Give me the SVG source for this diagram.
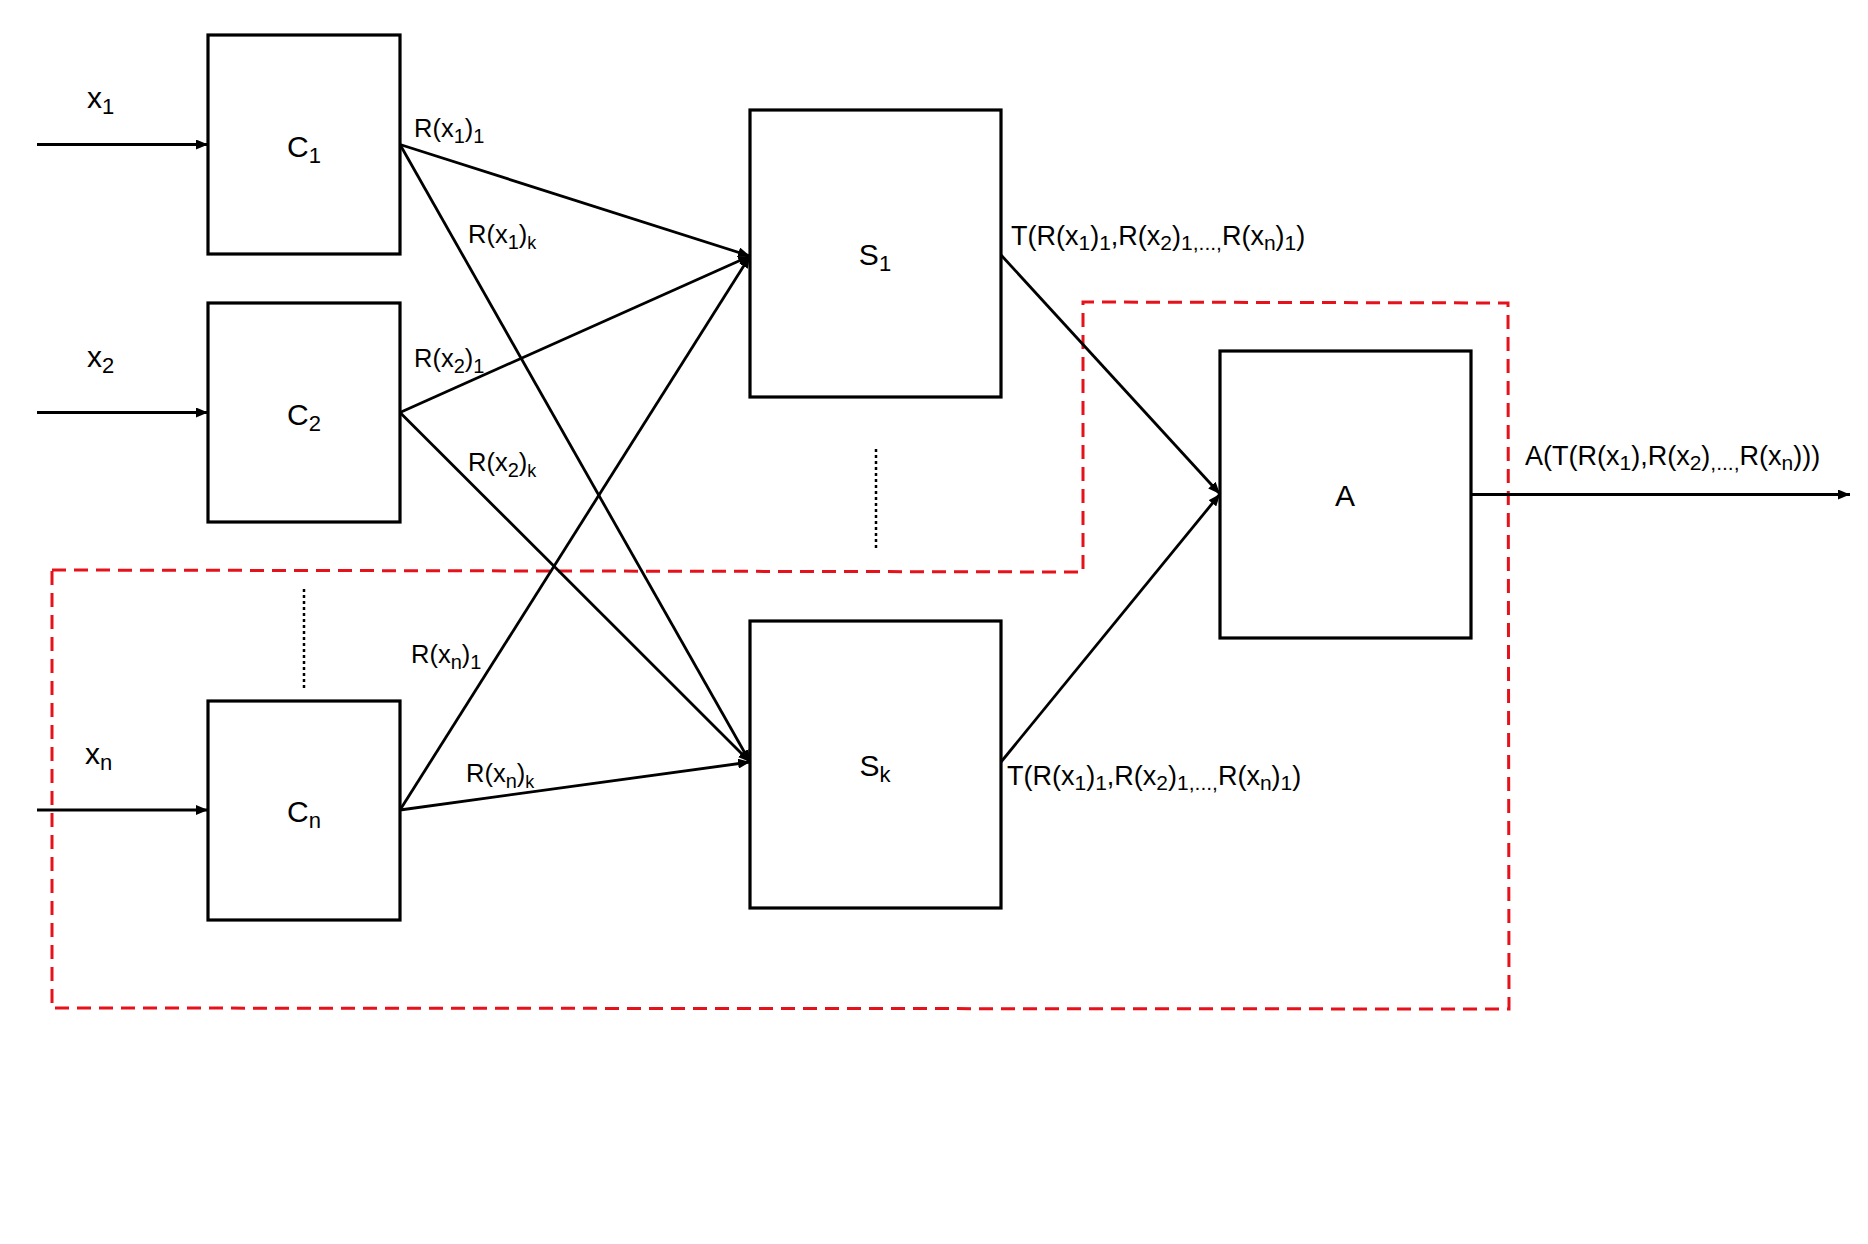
<svg xmlns="http://www.w3.org/2000/svg" width="1868" height="1244" viewBox="0 0 1868 1244">
  <defs>
    <style>
      .box { fill: #ffffff; stroke: #000000; stroke-width: 3.2; }
      .conn { fill: none; stroke: #000000; stroke-width: 2.8; }
      .dots { fill: none; stroke: #000000; stroke-width: 2.5; stroke-dasharray: 3 3; }
      .region { fill: none; stroke: #e5121b; stroke-width: 3; stroke-dasharray: 14 8; }
      text { font-family: "Liberation Sans", Arial, sans-serif; fill: #000000; }
      .lbl { font-size: 30px; }
      .inp { font-size: 30px; }
      .edge { font-size: 25.5px; }
      .big { font-size: 27px; }
    </style>
    <marker id="arr" markerUnits="userSpaceOnUse" markerWidth="12" markerHeight="10" viewBox="0 0 12 10" refX="12" refY="5" orient="auto">
      <path d="M0,0 L12,5 L0,10 z" fill="#000000"/>
    </marker>
  </defs>
  <rect width="1868" height="1244" fill="#ffffff"/>

  <!-- red dashed region -->
  <polygon class="region" points="52,570 1083,572 1083,302 1508,303 1509,1009 52,1008"/>

  <!-- connectors -->
  <g id="connectors">
    <line class="conn" x1="37" y1="144.5" x2="208" y2="144.5" marker-end="url(#arr)"/>
    <line class="conn" x1="37" y1="412.5" x2="208" y2="412.5" marker-end="url(#arr)"/>
    <line class="conn" x1="37" y1="810" x2="208" y2="810" marker-end="url(#arr)"/>

    <line class="conn" x1="400" y1="144.5" x2="750" y2="256" marker-end="url(#arr)"/>
    <line class="conn" x1="400" y1="144.5" x2="750" y2="762" marker-end="url(#arr)"/>
    <line class="conn" x1="400" y1="412.5" x2="750" y2="256" marker-end="url(#arr)"/>
    <line class="conn" x1="400" y1="412.5" x2="750" y2="762" marker-end="url(#arr)"/>
    <line class="conn" x1="400" y1="810" x2="750" y2="256" marker-end="url(#arr)"/>
    <line class="conn" x1="400" y1="810" x2="750" y2="762" marker-end="url(#arr)"/>

    <line class="conn" x1="1001" y1="255" x2="1220" y2="494" marker-end="url(#arr)"/>
    <line class="conn" x1="1001" y1="762" x2="1220" y2="494" marker-end="url(#arr)"/>

    <line class="conn" x1="1471" y1="494.5" x2="1850" y2="494.5" marker-end="url(#arr)"/>

    <line class="dots" x1="304" y1="589" x2="304" y2="688"/>
    <line class="dots" x1="876" y1="449" x2="876" y2="548"/>
  </g>

  <!-- nodes -->
  <g id="C1">
    <rect class="box" x="208" y="35" width="192" height="219"/>
    <text class="lbl" x="304" y="157" text-anchor="middle">C<tspan dy="6" font-size="22">1</tspan></text>
  </g>
  <g id="C2">
    <rect class="box" x="208" y="303" width="192" height="219"/>
    <text class="lbl" x="304" y="425" text-anchor="middle">C<tspan dy="6" font-size="22">2</tspan></text>
  </g>
  <g id="Cn">
    <rect class="box" x="208" y="701" width="192" height="219"/>
    <text class="lbl" x="304" y="822" text-anchor="middle">C<tspan dy="6" font-size="22">n</tspan></text>
  </g>
  <g id="S1">
    <rect class="box" x="750" y="110" width="251" height="287"/>
    <text class="lbl" x="875" y="265" text-anchor="middle">S<tspan dy="6" font-size="22">1</tspan></text>
  </g>
  <g id="Sk">
    <rect class="box" x="750" y="621" width="251" height="287"/>
    <text class="lbl" x="875" y="776" text-anchor="middle">S<tspan dy="6" font-size="22">k</tspan></text>
  </g>
  <g id="A">
    <rect class="box" x="1220" y="351" width="251" height="287"/>
    <text class="lbl" x="1345" y="506" text-anchor="middle">A</text>
  </g>

  <!-- labels -->
  <g id="labels">
    <text class="inp" x="87" y="108">x<tspan dy="6" font-size="22">1</tspan></text>
    <text class="inp" x="87" y="367">x<tspan dy="6" font-size="22">2</tspan></text>
    <text class="inp" x="85" y="764">x<tspan dy="6" font-size="22">n</tspan></text>

    <text class="edge" x="414" y="137">R(x<tspan dy="6" font-size="20">1</tspan><tspan dy="-6">)</tspan><tspan dy="6" font-size="20">1</tspan></text>
    <text class="edge" x="468" y="243">R(x<tspan dy="6" font-size="20">1</tspan><tspan dy="-6">)</tspan><tspan dy="6" font-size="18">k</tspan></text>
    <text class="edge" x="414" y="367">R(x<tspan dy="6" font-size="20">2</tspan><tspan dy="-6">)</tspan><tspan dy="6" font-size="20">1</tspan></text>
    <text class="edge" x="468" y="471">R(x<tspan dy="6" font-size="20">2</tspan><tspan dy="-6">)</tspan><tspan dy="6" font-size="18">k</tspan></text>
    <text class="edge" x="411" y="663">R(x<tspan dy="6" font-size="20">n</tspan><tspan dy="-6">)</tspan><tspan dy="6" font-size="20">1</tspan></text>
    <text class="edge" x="466" y="782">R(x<tspan dy="6" font-size="20">n</tspan><tspan dy="-6">)</tspan><tspan dy="6" font-size="18">k</tspan></text>

    <text class="big" x="1011" y="245">T(R(x<tspan dy="5" font-size="21">1</tspan><tspan dy="-5">)</tspan><tspan dy="5" font-size="21">1</tspan><tspan dy="-5">,R(x</tspan><tspan dy="5" font-size="21">2</tspan><tspan dy="-5">)</tspan><tspan dy="5" font-size="21">1,...,</tspan><tspan dy="-5">R(x</tspan><tspan dy="5" font-size="21">n</tspan><tspan dy="-5">)</tspan><tspan dy="5" font-size="21">1</tspan><tspan dy="-5">)</tspan></text>
    <text class="big" x="1007" y="785">T(R(x<tspan dy="5" font-size="21">1</tspan><tspan dy="-5">)</tspan><tspan dy="5" font-size="21">1</tspan><tspan dy="-5">,R(x</tspan><tspan dy="5" font-size="21">2</tspan><tspan dy="-5">)</tspan><tspan dy="5" font-size="21">1,...,</tspan><tspan dy="-5">R(x</tspan><tspan dy="5" font-size="21">n</tspan><tspan dy="-5">)</tspan><tspan dy="5" font-size="21">1</tspan><tspan dy="-5">)</tspan></text>

    <text class="big" x="1525" y="465">A(T(R(x<tspan dy="5" font-size="21">1</tspan><tspan dy="-5">),R(x</tspan><tspan dy="5" font-size="21">2</tspan><tspan dy="-5">)</tspan><tspan dy="5" font-size="21">,...,</tspan><tspan dy="-5">R(x</tspan><tspan dy="5" font-size="21">n</tspan><tspan dy="-5">)))</tspan></text>
  </g>
</svg>
